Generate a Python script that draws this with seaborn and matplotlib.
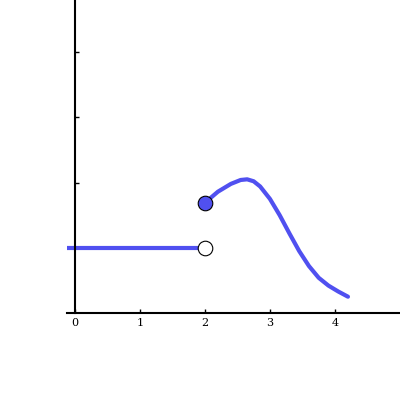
import matplotlib
matplotlib.use("Agg")
import matplotlib.pyplot as plt
import seaborn as sns
import numpy as np

sns.set_style("white")

flat_x = [-0.12, 2.0]
flat_y = [1.0, 1.0]
curve_x = [2.0, 2.2, 2.4, 2.55, 2.65, 2.75, 2.85, 3.0, 3.15, 3.3, 3.45, 3.6, 3.75, 3.9, 4.05, 4.2]
curve_y = [1.69, 1.86, 1.98, 2.04, 2.05, 2.02, 1.94, 1.75, 1.5, 1.22, 0.95, 0.72, 0.54, 0.42, 0.33, 0.25]
x_ticks = [0, 1, 2, 3, 4]
y_ticks = [1, 2, 3, 4]

blue = "#5050f0"

fig = plt.figure(figsize=(4, 4), dpi=100)
ax = fig.add_axes([67 / 400, 1 - 313 / 400, 1 - 67 / 400, 313 / 400])

sns.lineplot(x=flat_x, y=flat_y, ax=ax, color=blue, linewidth=3, sort=False)
sns.lineplot(x=curve_x, y=curve_y, ax=ax, color=blue, linewidth=3, sort=False)
ax.scatter([2], [1.0], s=110, facecolor="white", edgecolor="black", linewidth=0.8, zorder=5)
ax.scatter([2], [1.69], s=110, facecolor=blue, edgecolor="black", linewidth=0.8, zorder=5)

ax.set_xlim(-0.12, 5.0)
ax.set_ylim(0, 4.8)
ax.spines["top"].set_visible(False)
ax.spines["right"].set_visible(False)
ax.spines["left"].set_position(("data", 0))
ax.spines["left"].set_linewidth(1.5)
ax.spines["bottom"].set_linewidth(1.5)
ax.spines["left"].set_color("black")
ax.spines["bottom"].set_color("black")
ax.set_xticks(x_ticks)
ax.set_xticklabels([str(t) for t in x_ticks], family="DejaVu Serif", fontsize=8)
ax.set_yticks(y_ticks)
ax.set_yticklabels([])
ax.tick_params(axis="both", direction="in", length=3, width=1, colors="black", bottom=True, left=True)

fig.savefig("out.png", dpi=100)
